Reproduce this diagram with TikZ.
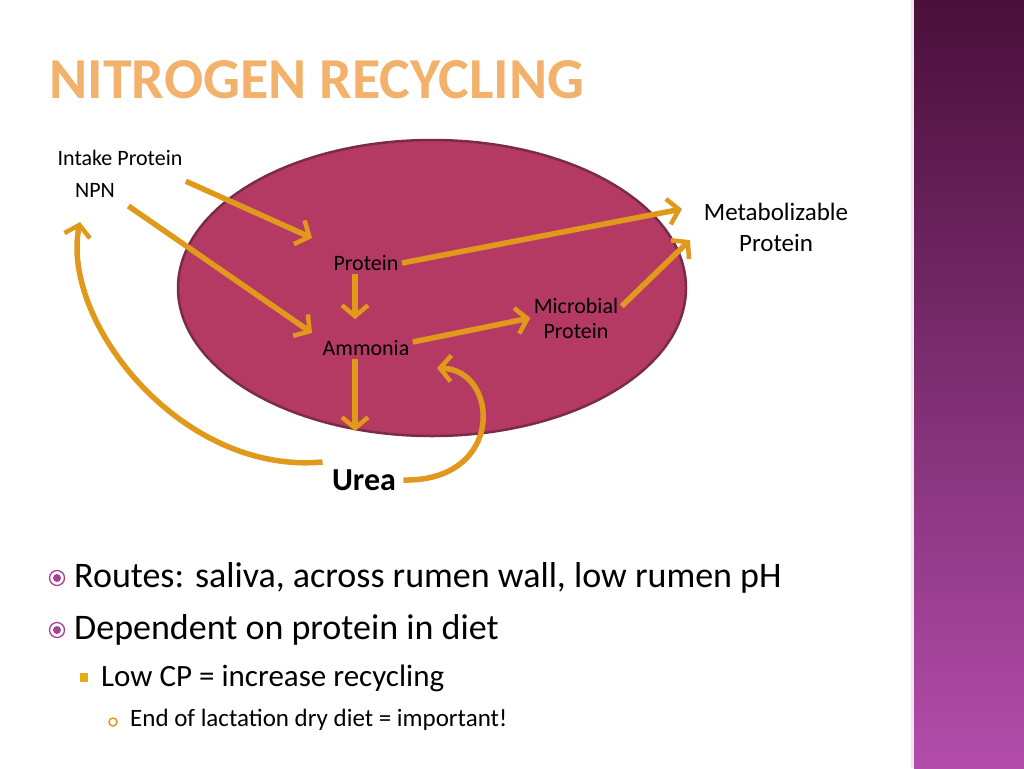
\documentclass[tikz,border=0pt]{standalone}
\usepackage{fontspec}
\setmainfont{Carlito}
\usetikzlibrary{arrows.meta}
\definecolor{rumen}{HTML}{B43A64}
\definecolor{rumenedge}{HTML}{7A2A4A}
\definecolor{flow}{HTML}{E1991C}
\definecolor{bandtop}{HTML}{4A0F3A}
\definecolor{bandbot}{HTML}{B24DAA}
\definecolor{titlecol}{HTML}{F3B26C}
\definecolor{dotcol}{HTML}{A8409A}
\begin{document}
\begin{tikzpicture}
    [x=1pt, y=-1pt,
     lbl/.style={font=\fontsize{22}{25}\selectfont, align=center, text=black},
     arr/.style={draw=flow, line width=5.5pt, -{Straight Barb[length=11pt, width=26pt, line width=4.5pt]}},
     bul/.style={anchor=west, text=black, inner sep=0pt},
    ]
    \useasboundingbox (0,0) rectangle (1024,768);
    % side band
    \shade [top color=bandtop, bottom color=bandbot] (914,0) rectangle (1024,768);
    \fill [white!85!bandbot] (911,0) rectangle (914,768);
    % title
    \node (title) [anchor=west, text=titlecol, font=\fontsize{58}{60}\selectfont\bfseries] at (46,80) {NITROGEN RECYCLING};
    % rumen
    \draw [fill=rumen, draw=rumenedge, line width=2.5pt] (432,288) ellipse [x radius=254, y radius=148];
    % labels
    \node (intake) [lbl] at (120,158) {Intake Protein};
    \node (npn) [lbl] at (95,190) {NPN};
    \node (protein) [lbl] at (366,263) {Protein};
    \node (ammonia) [lbl] at (366,348) {Ammonia};
    \node (microbial) [lbl] at (576,318) {Microbial\\Protein};
    \node (metab) [lbl, font=\fontsize{25}{31}\selectfont] at (776,227) {Metabolizable\\Protein};
    \node (urea) [lbl, font=\fontsize{32}{34}\selectfont\bfseries] at (364,480) {Urea};

    \draw [arr] (intake.south east) ++(0,12) -- (312,238);
    \draw [arr] (npn.east) ++(10,16) -- (312,333);
    \draw [arr] (protein.east) -- (682,209);
    \draw [arr] (protein.south) ++(-11,0) -- ++(0,45);
    \draw [arr] (ammonia.east) ++(0,-6) -- (microbial.west);
    \draw [arr] (microbial.north east) ++(0,12) -- (690,240);
    \draw [arr] (ammonia.south) ++(-11,0) -- ++(0,72);
    \draw [arr] (urea.west) ++(-6,-18) .. controls (180,475) and (60,320) .. (80,222);
    \draw [arr] (urea.east) ++(4,0) .. controls (505,482) and (500,370) .. (437,368);

    % bullets
    \foreach \y in {578,630} {
        \draw [dotcol, line width=1.3pt] (57,\y) circle (7.5);
        \fill [dotcol] (57,\y) circle (4);
    }
    \node (b1) [bul, font=\fontsize{36}{40}\selectfont] at (74,578) {Routes: saliva, across rumen wall, low rumen pH};
    \node (b2) [bul, font=\fontsize{36}{40}\selectfont] at (74,630) {Dependent on protein in diet};
    \fill [flow!80!yellow] (80,673) rectangle (88,682);
    \node (b3) [bul, font=\fontsize{31}{34}\selectfont] at (101,678) {Low CP = increase recycling};
    \draw [flow, line width=1.5pt] (113,722) circle (4);
    \node (b4) [bul, font=\fontsize{25}{28}\selectfont] at (130,720) {End of lactation dry diet = important!};
\end{tikzpicture}
\end{document}
